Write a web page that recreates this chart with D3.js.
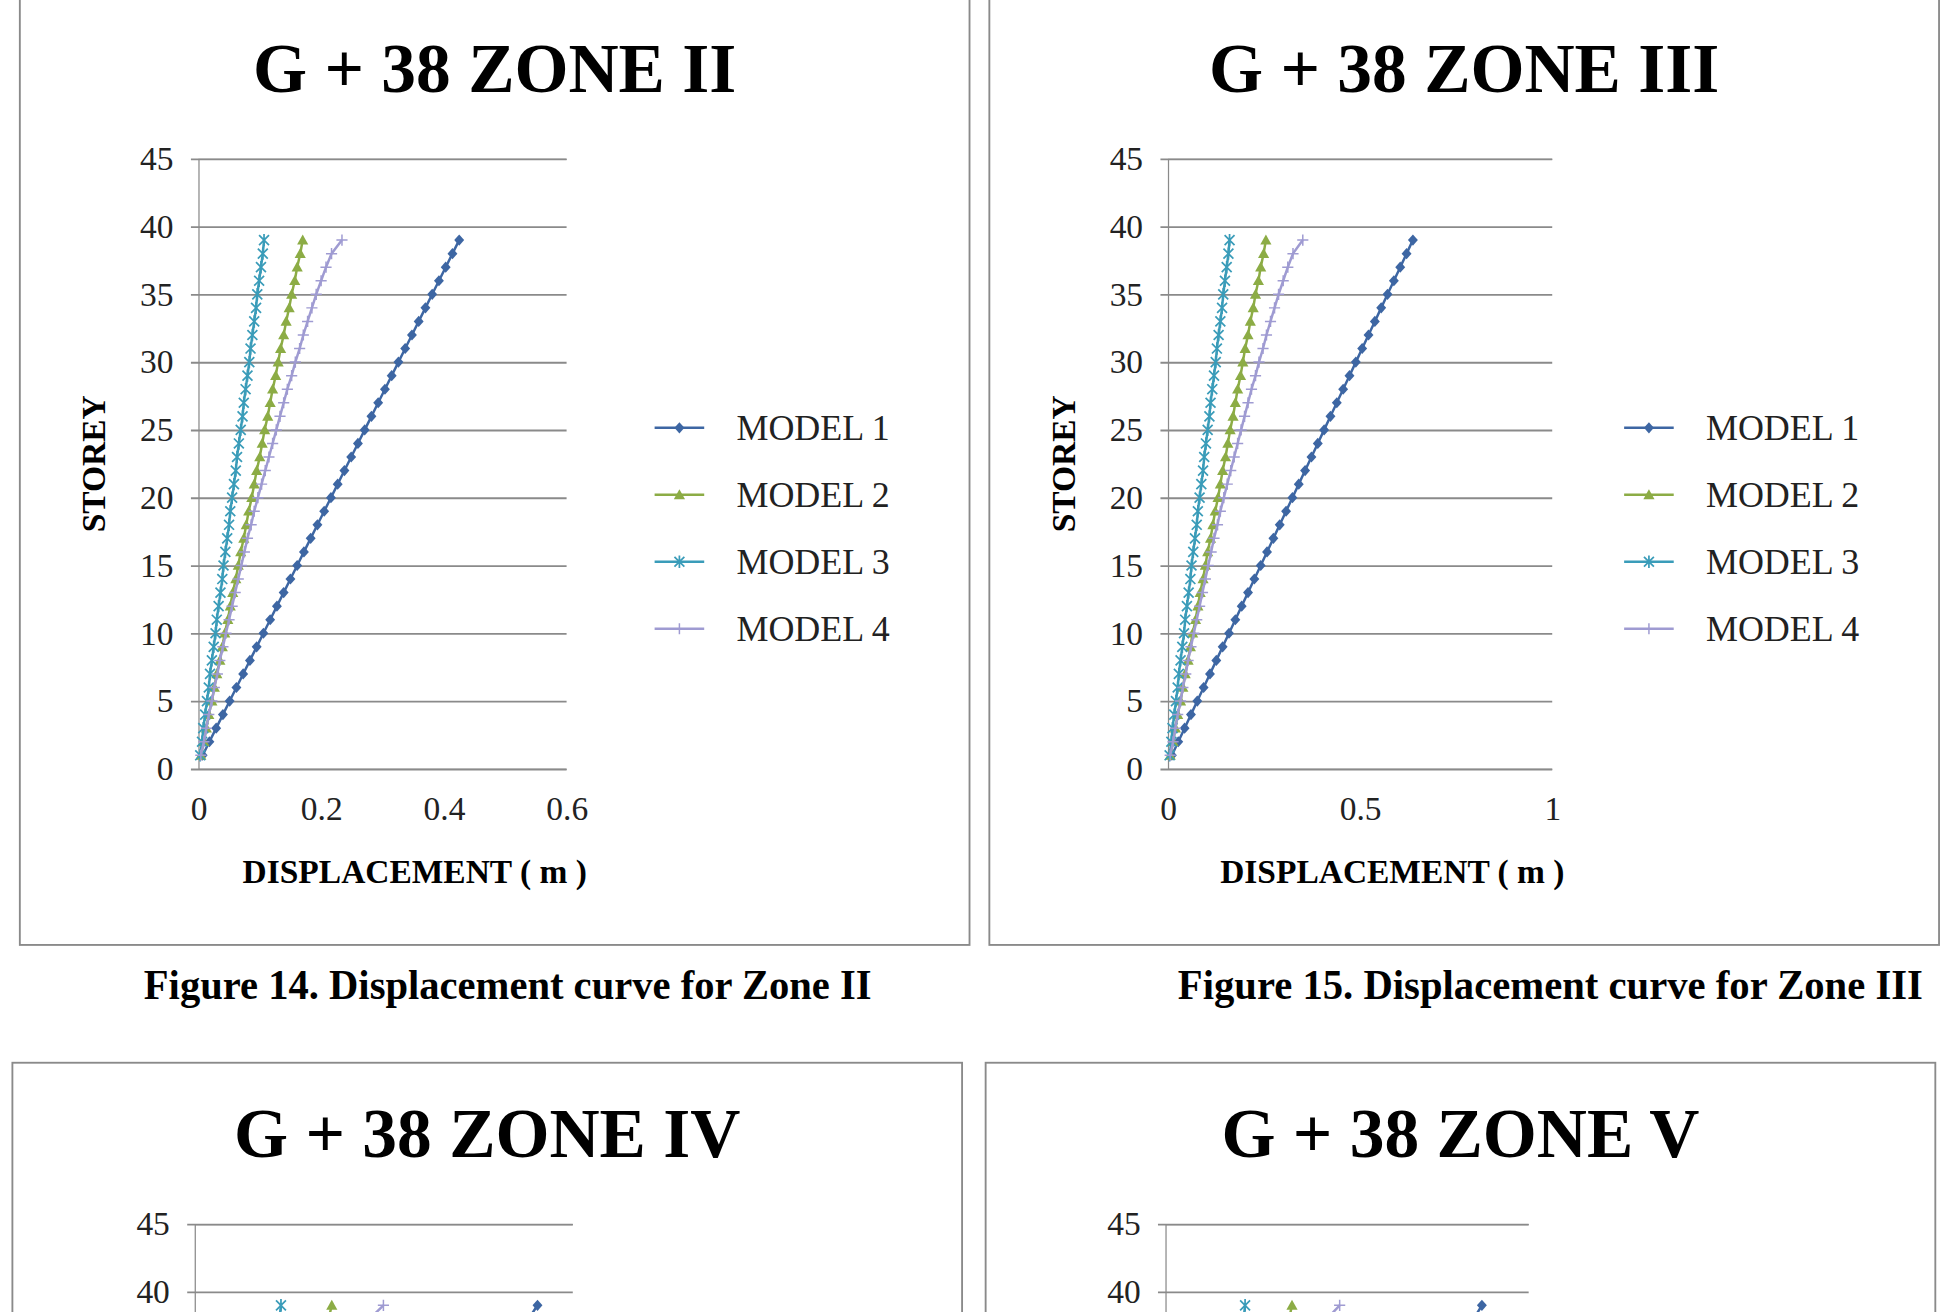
<!DOCTYPE html>
<html><head><meta charset="utf-8">
<script src="https://cdn.jsdelivr.net/npm/d3@7"></script>
<style>body{margin:0;background:#fff}svg{display:block}</style>
</head><body>
<div id="chart"></div>
<script>
// storeys 1..39
const storeys = d3.range(1, 40);
const models = ["MODEL 1", "MODEL 2", "MODEL 3", "MODEL 4"];
// zone II displacement (m)
const model1 = [0.007,0.018,0.029,0.040,0.051,0.062,0.073,0.084,0.095,0.106,0.117,0.128,0.139,0.150,0.161,0.172,0.183,0.194,0.205,0.216,0.227,0.238,0.249,0.260,0.271,0.282,0.293,0.304,0.315,0.326,0.337,0.348,0.359,0.370,0.381,0.392,0.403,0.414,0.425];
const model2 = [0.004,0.009,0.013,0.017,0.022,0.026,0.030,0.035,0.039,0.043,0.048,0.052,0.056,0.061,0.065,0.069,0.074,0.078,0.082,0.087,0.091,0.095,0.100,0.104,0.108,0.113,0.117,0.121,0.126,0.130,0.134,0.139,0.143,0.148,0.152,0.157,0.161,0.166,0.170];
const model3 = [0.003,0.006,0.008,0.011,0.014,0.017,0.019,0.022,0.025,0.028,0.030,0.033,0.036,0.039,0.041,0.044,0.047,0.050,0.052,0.055,0.058,0.061,0.063,0.066,0.069,0.072,0.074,0.077,0.080,0.083,0.085,0.088,0.091,0.094,0.096,0.099,0.102,0.105,0.107];
const model4 = [0.004,0.009,0.013,0.017,0.022,0.026,0.031,0.035,0.040,0.045,0.050,0.055,0.060,0.065,0.070,0.075,0.080,0.086,0.091,0.097,0.103,0.109,0.115,0.121,0.127,0.133,0.139,0.145,0.152,0.158,0.165,0.171,0.178,0.185,0.192,0.200,0.208,0.217,0.234];
// zone multipliers relative to zone II
const zoneNames = ["II", "III", "IV", "V"];
const zoneScale = [1, 1.5, 2.56, 4.1];
const xMax = [0.6, 1, 1.2, 2];
const xTicks = [[0, 0.2, 0.4, 0.6], [0, 0.5, 1], [0, 0.2, 0.4, 0.6, 0.8, 1, 1.2], [0, 0.5, 1, 1.5, 2]];
const captions = ["Figure 14. Displacement curve for Zone II", "Figure 15. Displacement curve for Zone III"];
const colors = ["#3d66a3", "#8cac45", "#3a9cb9", "#9f9bd2"];
const series = [model1, model2, model3, model4];

const W = 1568, H = 1058;
const svg = d3.select("#chart").append("svg")
  .attr("width", 1944).attr("height", 1312)
  .attr("viewBox", `0 0 ${W} ${H}`).attr("preserveAspectRatio", "none");

const serif = "'Liberation Serif', 'Times New Roman', serif";
// panel layout: box, plot area
const panels = [
  { bx: 16, by: -2, bw: 766, bh: 764, x0: 160, x1: 457, yTop: 128, legX: 528 },
  { bx: 798, by: -2, bw: 766, bh: 764, x0: 942, x1: 1252, yTop: 128, legX: 1310 },
  { bx: 10, by: 857, bw: 766, bh: 764, x0: 157, x1: 462, yTop: 987, legX: 526 },
  { bx: 795, by: 857, bw: 766, bh: 764, x0: 940, x1: 1233, yTop: 987, legX: 1300 },
];

function marker(g, type, color) {
  if (type === 0) g.append("path").attr("d", "M0,-4.5L4,0L0,4.5L-4,0Z").attr("fill", color);
  else if (type === 1) g.append("path").attr("d", "M0,-4.5L4.5,3.5L-4.5,3.5Z").attr("fill", color);
  else if (type === 2) {
    g.append("path").attr("d", "M-4,-4L4,4M-4,4L4,-4M0,-5V5").attr("stroke", color).attr("stroke-width", 1.4);
  } else g.append("path").attr("d", "M-4.5,0H4.5M0,-4.5V4.5").attr("stroke", color).attr("stroke-width", 1.2);
}

panels.forEach((p, zi) => {
  const g = svg.append("g");
  g.append("rect").attr("x", p.bx).attr("y", p.by).attr("width", p.bw).attr("height", p.bh)
    .attr("fill", "#fff").attr("stroke", "#8a8a8a").attr("stroke-width", 1.5);
  g.append("text").attr("x", p.bx + p.bw / 2).attr("y", p.by + 76).attr("text-anchor", "middle")
    .attr("font-family", serif).attr("font-weight", "bold").attr("font-size", 56)
    .text(`G + 38 ZONE ${zoneNames[zi]}`);

  const y = d3.scaleLinear().domain([0, 45]).range([p.yTop + 492, p.yTop]);
  const x = d3.scaleLinear().domain([0, xMax[zi]]).range([p.x0, p.x1]);

  // gridlines (only those inside the page)
  const yAxis = d3.axisLeft(y).tickValues(d3.range(0, 46, 5).filter(v => y(v) < H - 10))
    .tickSize(-(p.x1 - p.x0)).tickPadding(20);
  const ya = g.append("g").attr("transform", `translate(${p.x0},0)`).call(yAxis);
  ya.select(".domain").attr("stroke", "#8a8a8a");
  ya.selectAll(".tick line").attr("stroke", "#8a8a8a").attr("stroke-width", 1.5).attr("x1", -6);
  ya.selectAll(".tick text").attr("font-family", serif).attr("font-size", 27).attr("fill", "#222");

  if (y(0) < H) {
    const xa = g.append("g").attr("transform", `translate(0,${y(0)})`)
      .call(d3.axisBottom(x).tickValues(xTicks[zi]).tickSize(0).tickPadding(22).tickFormat(d3.format("~g")));
    xa.select(".domain").remove();
    xa.selectAll(".tick text").attr("font-family", serif).attr("font-size", 27).attr("fill", "#222");
    g.append("text").attr("x", (p.x0 + p.x1) / 2 + 26).attr("y", y(0) + 92).attr("text-anchor", "middle")
      .attr("font-family", serif).attr("font-weight", "bold").attr("font-size", 27).text("DISPLACEMENT ( m )");
    g.append("text").attr("transform", `translate(${p.x0 - 75},${y(22.5)}) rotate(-90)`).attr("text-anchor", "middle")
      .attr("font-family", serif).attr("font-weight", "bold").attr("font-size", 27).text("STOREY");
  }

  const line = d3.line().x(d => x(d[0])).y(d => y(d[1]));
  series.forEach((s, mi) => {
    const pts = s.map((v, i) => [v * zoneScale[zi], storeys[i]]);
    g.append("path").attr("d", line(pts)).attr("fill", "none").attr("stroke", colors[mi]).attr("stroke-width", 2);
    pts.forEach(pt => marker(g.append("g").attr("transform", `translate(${x(pt[0])},${y(pt[1])})`), mi, colors[mi]));
  });

  // legend
  if (p.yTop + 217 + 3 * 54 < H) {
    models.forEach((m, mi) => {
      const ly = 345 + mi * 54 + (p.yTop - 128);
      g.append("line").attr("x1", p.legX).attr("x2", p.legX + 40).attr("y1", ly).attr("y2", ly)
        .attr("stroke", colors[mi]).attr("stroke-width", 2);
      marker(g.append("g").attr("transform", `translate(${p.legX + 20},${ly})`), mi, colors[mi]);
      g.append("text").attr("x", p.legX + 66).attr("y", ly + 10).attr("font-family", serif)
        .attr("font-size", 29).attr("fill", "#222").text(m);
    });
  }
});

// captions
[[116, 703], [950, 1551]].forEach((c, i) => {
  svg.append("text").attr("x", c[0]).attr("y", 806).attr("textLength", c[1] - c[0])
    .attr("lengthAdjust", "spacingAndGlyphs").attr("font-family", serif).attr("font-weight", "bold")
    .attr("font-size", 34).text(captions[i]);
});
</script>
</body></html>
